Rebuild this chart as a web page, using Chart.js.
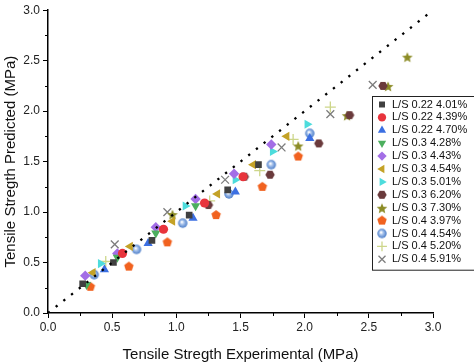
<!DOCTYPE html>
<html><head><meta charset="utf-8">
<script src="https://cdn.jsdelivr.net/npm/chart.js@4.4.1/dist/chart.umd.min.js"></script>
<style>html,body{margin:0;padding:0;background:#fff}</style>
</head><body>
<canvas id="c" width="474" height="364" style="display:block;width:474px;height:364px"></canvas>
<script>
// ---- data (Tensile strength: experimental x, predicted y, MPa) ----
const seriesLabels = ['L/S 0.22 4.01%','L/S 0.22 4.39%','L/S 0.22 4.70%','L/S 0.3 4.28%','L/S 0.3 4.43%','L/S 0.3 4.54%','L/S 0.3 5.01%','L/S 0.3 6.20%','L/S 0.3 7.30%','L/S 0.4 3.97%','L/S 0.4 4.54%','L/S 0.4 5.20%','L/S 0.4 5.91%'];
const s01x = [0.27,0.51,0.81,1.10,1.40,1.64];
const s01y = [0.29,0.50,0.72,0.97,1.22,1.47];
const s02x = [0.58,0.90,1.22,1.52];
const s02y = [0.59,0.83,1.09,1.35];
const s03x = [0.44,0.78,1.13,1.46,2.04];
const s03y = [0.43,0.69,0.94,1.20,1.73];
const s04x = [0.30,0.54,0.84,1.15];
const s04y = [0.28,0.55,0.79,1.06];
const s05x = [0.29,0.54,0.84,1.15,1.45,1.74];
const s05y = [0.37,0.59,0.85,1.13,1.38,1.67];
const s06x = [0.35,0.64,0.97,1.32,1.60,1.86];
const s06y = [0.40,0.66,0.91,1.18,1.47,1.75];
const s07x = [0.41,1.07,1.46,1.75,2.02];
const s07y = [0.49,1.06,1.32,1.60,1.87];
const s08x = [1.25,1.53,1.73,2.11,2.35,2.61];
const s08y = [1.07,1.35,1.37,1.68,1.96,2.25];
const s09x = [0.97,1.95,2.33,2.65,2.80];
const s09y = [0.98,1.66,1.96,2.25,2.54];
const s10x = [0.33,0.63,0.93,1.31,1.67,1.95];
const s10y = [0.26,0.46,0.70,0.97,1.25,1.55];
const s11x = [0.36,0.69,1.05,1.41,1.74,2.04];
const s11y = [0.38,0.63,0.89,1.18,1.47,1.78];
const s12x = [0.45,1.26,1.65,1.91,2.20];
const s12y = [0.51,1.11,1.41,1.72,2.04];
const s13x = [0.52,0.93,1.38,1.82,2.20,2.53];
const s13y = [0.68,1.00,1.32,1.64,1.97,2.26];
const xTicks = [0,0.5,1.0,1.5,2.0,2.5,3.0];
const yTicks = [0,0.5,1.0,1.5,2.0,2.5,3.0];
const xsAll = [s01x,s02x,s03x,s04x,s05x,s06x,s07x,s08x,s09x,s10x,s11x,s12x,s13x];
const ysAll = [s01y,s02y,s03y,s04y,s05y,s06y,s07y,s08y,s09y,s10y,s11y,s12y,s13y];

// ---- marker images for shapes Chart.js lacks ----
function poly(n, color, r, rot){
  const c=document.createElement('canvas'); const s=Math.ceil(2*r+2); c.width=s; c.height=s;
  const g=c.getContext('2d'); g.fillStyle=color; g.beginPath();
  for(let i=0;i<n;i++){const a=rot+i*2*Math.PI/n; const px=s/2+r*Math.cos(a), py=s/2+r*Math.sin(a); i?g.lineTo(px,py):g.moveTo(px,py);}
  g.closePath(); g.fill(); return c;
}
function star5(color, r){
  const c=document.createElement('canvas'); const s=Math.ceil(2*r+2); c.width=s; c.height=s;
  const g=c.getContext('2d'); g.fillStyle=color; g.beginPath();
  for(let i=0;i<10;i++){const rr=i%2?r*0.45:r; const a=-Math.PI/2+i*Math.PI/5; const px=s/2+rr*Math.cos(a), py=s/2+1+rr*Math.sin(a); i?g.lineTo(px,py):g.moveTo(px,py);}
  g.closePath(); g.fill(); return c;
}
function sphere(r){
  const c=document.createElement('canvas'); const s=Math.ceil(2*r+2); c.width=s; c.height=s;
  const g=c.getContext('2d');
  const gr=g.createRadialGradient(s/2-1,s/2-1.2,0.5,s/2,s/2,r);
  gr.addColorStop(0,'#ffffff'); gr.addColorStop(0.35,'#a9c4ec'); gr.addColorStop(1,'#4a7cc8');
  g.fillStyle=gr; g.beginPath(); g.arc(s/2,s/2,r,0,Math.PI*2); g.fill(); return c;
}
const styles = [
  {pointStyle:'rect', color:'#404040', radius:4.7, rotation:0, bw:0},
  {pointStyle:'circle', color:'#e8343c', radius:4.6, rotation:0, bw:0},
  {pointStyle:'triangle', color:'#3b6fe2', radius:5.3, rotation:0, bw:0},
  {pointStyle:'triangle', color:'#4caf5e', radius:5.3, rotation:180, bw:0},
  {pointStyle:'rectRot', color:'#a36ee6', radius:5.2, rotation:0, bw:0},
  {pointStyle:'triangle', color:'#c4a227', radius:5.3, rotation:270, bw:0},
  {pointStyle:'triangle', color:'#4ddcdc', radius:5.3, rotation:90, bw:0},
  {pointStyle:poly(6,'#6a3a3c',4.7,0), color:'#6a3a3c', radius:4.7, rotation:0, bw:0},
  {pointStyle:star5('#8c8c26',5.6), color:'#8c8c26', radius:5.6, rotation:0, bw:0},
  {pointStyle:poly(5,'#f1621f',5.0,-Math.PI/2), color:'#f1621f', radius:5.0, rotation:0, bw:0},
  {pointStyle:sphere(4.7), color:'#4a7cc8', radius:4.7, rotation:0, bw:0},
  {pointStyle:'cross', color:'#cdd68a', radius:5.5, rotation:0, bw:1.3},
  {pointStyle:'crossRot', color:'#7d7d7d', radius:5.5, rotation:0, bw:1.3}
];

const datasets = seriesLabels.map((lab,i)=>({
  type:'scatter', label:lab,
  data: xsAll[i].map((x,k)=>({x:x, y:ysAll[i][k]})),
  pointStyle: styles[i].pointStyle, pointRotation: styles[i].rotation,
  pointRadius: styles[i].radius, pointHoverRadius: styles[i].radius,
  backgroundColor: styles[i].color, borderColor: styles[i].color,
  pointBorderWidth: styles[i].bw, order: 1
}));
datasets.push({type:'line', label:'y=x', data:[{x:0,y:0},{x:3,y:3}], borderColor:'#000', borderWidth:2.3,
  borderDash:[2.3,7.5], pointRadius:0, fill:false, order:0});

const FONT = "'Liberation Sans', Arial, sans-serif";

const extras = {
  id:'extras',
  afterDraw(chart){
    const ctx=chart.ctx, xs=chart.scales.x, ys=chart.scales.y;
    ctx.save();
    ctx.strokeStyle='#000'; ctx.lineWidth=1;
    // minor ticks
    for(let k=0;k<xTicks.length-1;k++){
      const v=(xTicks[k]+xTicks[k+1])/2;
      const px=Math.round(xs.getPixelForValue(v))+0.5;
      ctx.beginPath(); ctx.moveTo(px, xs.top); ctx.lineTo(px, xs.top+3); ctx.stroke();
    }
    for(let k=0;k<yTicks.length-1;k++){
      const v=(yTicks[k]+yTicks[k+1])/2;
      const py=Math.round(ys.getPixelForValue(v))+0.5;
      ctx.beginPath(); ctx.moveTo(ys.right-3, py); ctx.lineTo(ys.right, py); ctx.stroke();
    }
    // legend
    const lx=372.5, ly=96.5, lw=110, rowH=12.9;
    const n=seriesLabels.length;
    ctx.fillStyle='#fff'; ctx.fillRect(lx,ly,lw,n*rowH+6);
    ctx.strokeStyle='#222'; ctx.lineWidth=1; ctx.strokeRect(lx,ly,lw,n*rowH+6);
    ctx.font='11px '+FONT; ctx.textBaseline='middle'; ctx.textAlign='left';
    const hp = Chart.helpers;
    for(let i=0;i<n;i++){
      const cy=ly+8+i*rowH, cx=382;
      const st=styles[i];
      ctx.fillStyle=st.color; ctx.strokeStyle=st.color; ctx.lineWidth=st.bw||1;
      hp.drawPoint(ctx,{pointStyle:st.pointStyle, rotation:st.rotation, radius:st.radius*0.9, borderWidth:st.bw}, cx, cy);
      ctx.fillStyle='#111';
      ctx.fillText(seriesLabels[i], 392, cy);
    }
    ctx.restore();
  }
};

new Chart(document.getElementById('c'), {
  data:{datasets},
  options:{
    responsive:false, animation:false, devicePixelRatio:1,
    layout:{padding:{top:4,right:41,left:0,bottom:0}},
    plugins:{legend:{display:false}, tooltip:{enabled:false}},
    scales:{
      x:{type:'linear', min:0, max:3,
        afterBuildTicks(s){ s.ticks = xTicks.map(v=>({value:v})); },
        ticks:{callback:v=>Number(v).toFixed(1), color:'#222', font:{family:FONT,size:12}, padding:2, maxRotation:0, autoSkip:false},
        grid:{display:true, drawOnChartArea:false, drawTicks:true, tickLength:5, tickColor:'#000', tickWidth:1},
        border:{display:true, color:'#000', width:1.5},
        title:{display:true, text:'Tensile Stregth Experimental (MPa)', color:'#111', font:{family:FONT,size:15}, padding:{top:5,bottom:0}},
        afterFit(s){ s.height=51; }
      },
      y:{type:'linear', min:0, max:3,
        afterBuildTicks(s){ s.ticks = yTicks.map(v=>({value:v})); },
        ticks:{callback:v=>Number(v).toFixed(1), color:'#222', font:{family:FONT,size:12}, padding:3, autoSkip:false},
        grid:{display:true, drawOnChartArea:false, drawTicks:true, tickLength:5, tickColor:'#000', tickWidth:1},
        border:{display:true, color:'#000', width:1.5},
        title:{display:true, text:'Tensile Stregth Predicted (MPa)', color:'#111', font:{family:FONT,size:15}, padding:{top:2,bottom:2}},
        afterFit(s){ s.width=48; }
      }
    }
  },
  plugins:[extras]
});
</script>
</body></html>
